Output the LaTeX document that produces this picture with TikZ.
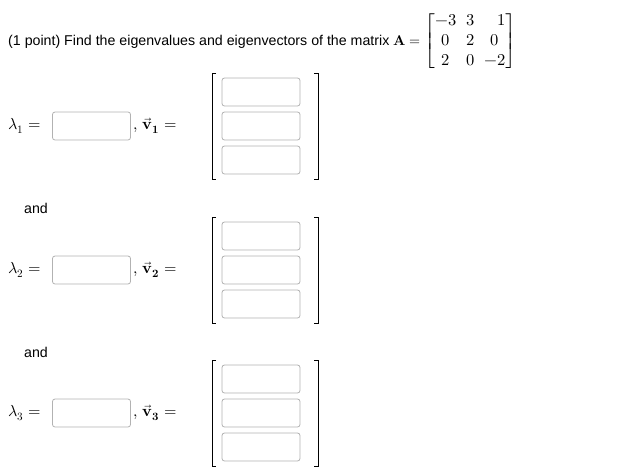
\documentclass[tikz,border=0pt]{standalone}
\usepackage{fontspec}
\setmainfont{Liberation Sans}
\usepackage{amsmath}
\usepackage{unicode-math}
\setmathfont{Latin Modern Math}
\begin{document}
\begin{tikzpicture}[x=1pt,y=-1pt,
  inbox/.style={draw=black!30,line width=0.8pt,rounded corners=2.5pt,fill=white,minimum width=78pt,minimum height=28pt,inner sep=0pt},
  lbl/.style={inner sep=0pt,font=\fontsize{14.2}{17}\selectfont},
  mth/.style={inner sep=0pt,font=\fontsize{16}{19}\selectfont},
  brk/.style={line width=0.8pt}]
\useasboundingbox (0,0) rectangle (626,467);
\node[lbl,anchor=west] (q) at (8,42) {(1 point) Find the eigenvalues and eigenvectors of the matrix $\symbf{A}=$};
\node[inner sep=0pt,anchor=west,font=\fontsize{16.5}{20}\selectfont] (M) at (424,41) {$\begin{bmatrix}-3&3&\phantom{-}1\\0&2&0\\2&0&-2\end{bmatrix}$};
\foreach \i/\y in {1/126,2/270,3/413}{
  \node[mth,anchor=west] (l\i) at (8,\y) {$\lambda_{\i}=$};
  \node[inbox] (b\i) at (91.5,\y) {};
  \node[mth,anchor=west] (v\i) at (133,\y) {$,\,\vec{\symbf v}_{\symbf\i}=$};
  \node[inbox] (c\i a) at (261,\y-34) {};
  \node[inbox] (c\i b) at (261,\y) {};
  \node[inbox] (c\i c) at (261,\y+34) {};
  \coordinate (tl\i) at (212,\y-53);
  \coordinate (tr\i) at (318,\y-53);
  \draw[brk] ([xshift=4pt]tl\i) -- (tl\i) -- ++(0,106) -- ++(4,0);
  \draw[brk] ([xshift=-4pt]tr\i) -- (tr\i) -- ++(0,106) -- ++(-4,0);
}
\node[lbl] (and1) at (36,208) {and};
\node[lbl] (and2) at (36,352) {and};
\end{tikzpicture}
\end{document}
